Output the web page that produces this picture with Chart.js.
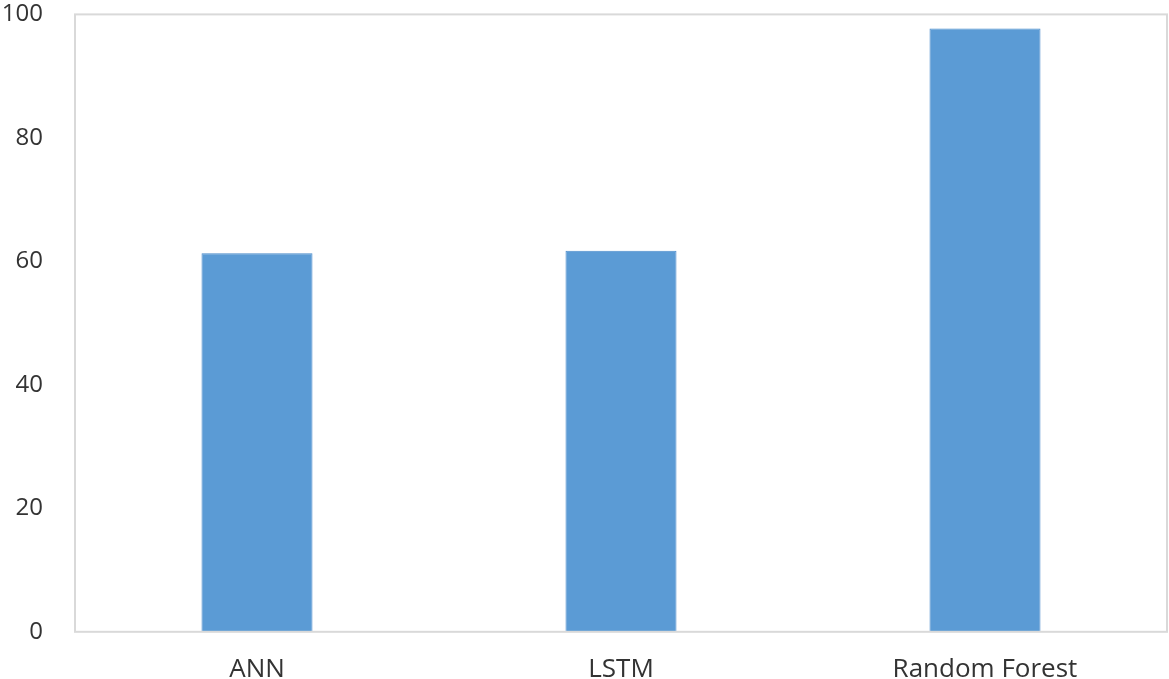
<!DOCTYPE html>
<html>
<head>
<meta charset="utf-8">
<script src="https://cdn.jsdelivr.net/npm/chart.js@4.4.1/dist/chart.umd.min.js"></script>
<style>
  html, body { margin: 0; padding: 0; background: #fff; overflow: hidden; }
  #wrap { position: relative; width: 1169px; height: 739px; margin-top: -32px; }
</style>
</head>
<body>
<div id="wrap"><canvas id="modelChart"></canvas></div>
<script>
const categories = ['ANN', 'LSTM', 'Random Forest'];
const accuracy = [61.3, 61.7, 97.7];
const yTicks = [0, 20, 40, 60, 80, 100];

// light frame round the plot area, like the original
const frame = {
  id: 'frame',
  afterDraw(chart) {
    const a = chart.chartArea;
    const c = chart.ctx;
    c.save();
    c.strokeStyle = '#d9d9d9';
    c.lineWidth = 2;
    c.strokeRect(a.left, a.top, a.right - a.left, a.bottom - a.top);
    c.restore();
  }
};

const ctx = document.getElementById('modelChart');
new Chart(ctx, {
  type: 'bar',
  data: {
    labels: categories,
    datasets: [{
      data: accuracy,
      backgroundColor: '#5b9bd5',
      borderColor: '#4a8bcb',
      borderWidth: 1,
      categoryPercentage: 0.61,
      barPercentage: 0.5
    }]
  },
  options: {
    responsive: true,
    maintainAspectRatio: false,
    animation: false,
    layout: { padding: { left: 0, right: 2, top: 0, bottom: 0 } },
    plugins: {
      legend: { display: false },
      tooltip: { enabled: false }
    },
    scales: {
      x: {
        grid: { display: false, drawTicks: false },
        border: { display: false },
        ticks: {
          color: '#333',
          padding: 22,
          font: { family: 'Open Sans', size: 26 }
        }
      },
      y: {
        min: 0,
        max: 100,
        afterBuildTicks: (axis) => { axis.ticks = yTicks.map(v => ({ value: v })); },
        afterFit: (axis) => { axis.width = 75; },
        grid: { display: false, drawTicks: false },
        border: { display: false },
        ticks: {
          color: '#333',
          padding: 32,
          font: { family: 'Open Sans', size: 24 }
        }
      }
    }
  },
  plugins: [frame]
});
</script>
</body>
</html>
